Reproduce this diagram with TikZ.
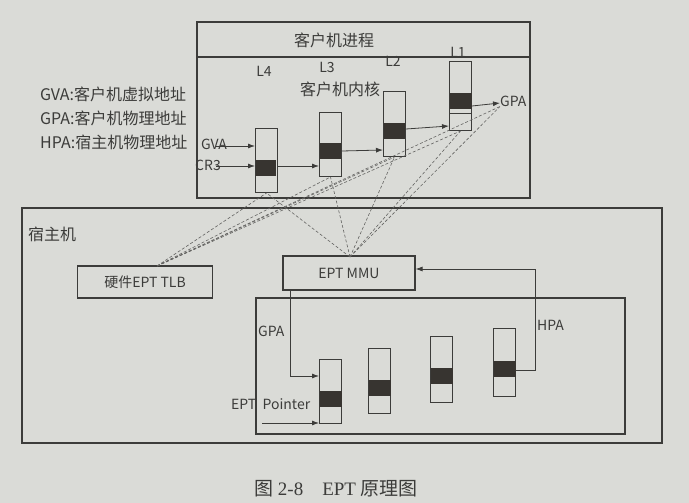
\documentclass[tikz,border=0pt]{standalone}
\usepackage{fontspec}
\setmainfont{Liberation Serif}
\newfontfamily\cjk{Noto Sans CJK SC}
\usetikzlibrary{arrows.meta}
\definecolor{bg}{RGB}{218,219,215}
\definecolor{ink}{RGB}{60,60,58}
\definecolor{cell}{RGB}{55,52,48}
\tikzset{
  frame/.style={draw=ink, line width=1.1pt},
  lbl/.style={font=\cjk\fontsize{14}{16}\selectfont, text=ink, inner sep=0pt},
  big/.style={font=\cjk\fontsize{16}{18}\selectfont},
  boxnode/.style={draw=ink, line width=1.1pt, fill=bg, font=\cjk\fontsize{14}{16}\selectfont, text=ink},
  col/.style={draw=ink, line width=1pt, fill=bg, minimum width=22pt, inner sep=0pt},
  arr/.style={draw=ink, line width=0.8pt, -{Latex[length=7pt,width=5pt]}},
  dsh/.style={draw=ink!80, line width=0.6pt, dashed, dash pattern=on 3pt off 2pt},
}
\begin{document}
\begin{tikzpicture}[x=1pt,y=-1pt]
\fill[bg] (0,0) rectangle (689,503);
\useasboundingbox (0,0) rectangle (689,503);

% guest process box
\draw[frame] (197,22) rectangle (530,198);
\draw[frame] (197,57) -- (530,57);
\node[lbl, big] (tproc) at (334,40) {客户机进程};
\node[lbl, big] (tkern) at (340,89) {客户机内核};

% legend
\node[lbl, big, anchor=west] (leg1) at (40,94) {GVA:客户机虚拟地址};
\node[lbl, big, anchor=west] (leg2) at (40,118) {GPA:客户机物理地址};
\node[lbl, big, anchor=west] (leg3) at (40,142) {HPA:宿主机物理地址};

% host box
\draw[frame] (22,208) rectangle (662,443);
\node[lbl, big, anchor=west] (thost) at (28,234) {宿主机};

% guest page-table columns
\newcommand{\ptcol}[6]{% name, x0, y0, x1, y1, darktop
  \node[col, minimum height=#5-#3 pt, anchor=north west] (#1) at (#2,#3) {};
  \fill[cell] (#2+1,#6) rectangle (#4-1,#6+16);
}
\ptcol{L4}{255}{128}{277}{192}{160}
\ptcol{L3}{319}{112}{342}{176}{143}
\ptcol{L2}{383}{91}{406}{156}{123}
\ptcol{L1}{449}{61}{473}{130}{93}
\draw[ink, line width=0.8pt] (L1.west |- 0,113) -- (L1.east |- 0,113);

\node[lbl] (nL4) at (264,71) {L4};
\node[lbl] (nL3) at (327,67) {L3};
\node[lbl] (nL2) at (393,61) {L2};
\node[lbl] (nL1) at (458,52) {L1};

\node[lbl, anchor=west] (gva) at (201,144) {GVA};
\node[lbl, anchor=west] (cr3) at (195,165) {CR3};
\node[lbl, anchor=west] (gpa) at (500,101) {GPA};

\coordinate (gvaE) at (216,146);
\coordinate (cr3E) at (216,166);
\draw[arr] (gvaE) -- (L4.west |- gvaE);
\draw[arr] (cr3E) -- (L4.west |- cr3E);
\draw[arr] (L4.east |- 0,166) -- (L3.west |- 0,166);
\draw[arr] (L3.east |- 0,151) -- (L2.west |- 0,150);
\draw[arr] (L2.east |- 0,129) -- (L1.west |- 0,126);
\draw[arr] (L1.east |- 0,106) -- (gpa.west |- 0,103);

% host boxes
\node[boxnode, minimum width=135pt, minimum height=32pt] (tlb) at (145,282) {硬件EPT TLB};
\node[boxnode, minimum width=132pt, minimum height=34pt] (mmu) at (349,273) {EPT MMU};

% dashed connectors
\coordinate (tlbT) at (157,266);
\coordinate (mmuT) at (350,257);
\foreach \t in {L4.south, L3.south, L2.south, L1.south} {
  \draw[dsh] (tlbT) -- (\t);
  \draw[dsh] (mmuT) -- (\t);
}
\draw[dsh] (tlbT) -- (gpa.south west);
\draw[dsh] (mmuT) -- (gpa.south west);

% inner host box
\draw[frame] (256,298) rectangle (625,434);
\ptcol{T1}{319}{359}{343}{423}{391}
\ptcol{T2}{368}{348}{392}{413}{380}
\ptcol{T3}{430}{336}{454}{402}{368}
\ptcol{T4}{493}{328}{517}{396}{361}

\node[lbl, anchor=west] (gpa2) at (258,331) {GPA};
\node[lbl, anchor=west] (hpa2) at (537,325) {HPA};
\node[lbl, anchor=west] (eptp) at (231,404) {EPT\ \ Pointer};

\draw[arr] (290,290) |- (T1.west |- 0,376);
\coordinate (ptrS) at (262,423);
\draw[arr] (ptrS) -- (T1.west |- ptrS);
\draw[arr] (T4.east |- 0,370) -- (535,370) |- (mmu.east |- 0,269);

% caption
\node[inner sep=0pt, text=ink, font=\fontsize{19}{22}\selectfont] (cap) at (336,489) {{\cjk 图} 2-8\quad EPT {\cjk 原理图}};
\end{tikzpicture}
\end{document}
